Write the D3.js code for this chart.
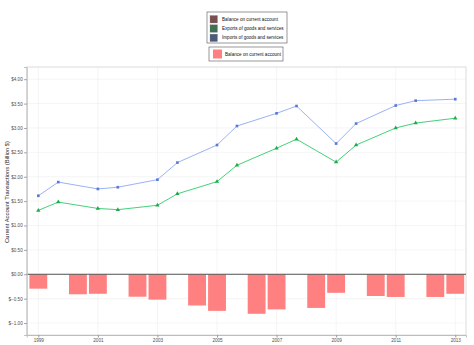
<!DOCTYPE html>
<html>
<head>
<meta charset="utf-8">
<script src="https://cdn.jsdelivr.net/npm/d3@7"></script>
<style>
body{margin:0;background:#fff;}
text{font-family:"Liberation Sans",Arial,sans-serif;}
</style>
</head>
<body>
<svg width="474" height="345"></svg>
<script>
// positions on the time axis
const lineYears=[1999,1999.67,2001,2001.67,2003,2003.67,2005,2005.67,2007,2007.67,2009,2009.67,2011,2011.67,2013];
const barYears=[1999,2000.33,2001,2002.33,2003,2004.33,2005,2006.33,2007,2008.33,2009,2010.33,2011,2012.33,2013];
const imports=[1.61,1.89,1.75,1.785,1.94,2.29,2.65,3.04,3.30,3.45,2.68,3.09,3.46,3.56,3.59];
const exports=[1.31,1.48,1.35,1.325,1.415,1.65,1.90,2.235,2.585,2.77,2.30,2.65,3.00,3.10,3.20];
const balance=[-0.295,-0.41,-0.40,-0.46,-0.52,-0.64,-0.75,-0.81,-0.72,-0.69,-0.38,-0.445,-0.465,-0.465,-0.40];
const xTicks=[1999,2001,2003,2005,2007,2009,2011,2013];
const yTicks=[4,3.5,3,2.5,2,1.5,1,0.5,0,-0.5,-1];
const legendLabels=["Balance on current account","Exports of goods and services","Imports of goods and services"];

const svg=d3.select("svg");
const pLeft=26.7, pRight=466, pTop=67, pBottom=335;
const x=d3.scaleLinear().domain([1998.61,2013.36]).range([pLeft,pRight]);
const y=d3.scaleLinear().domain([-1.245,4.25]).range([pBottom,pTop]);
const fmt=d=>"$"+d3.format(".2f")(d);

// grid
svg.append("g").selectAll("line").data(yTicks).enter().append("line")
   .attr("x1",pLeft).attr("x2",pRight).attr("y1",d=>y(d)).attr("y2",d=>y(d))
   .attr("stroke","#efefef").attr("stroke-width",0.6);
svg.append("g").selectAll("line").data(xTicks).enter().append("line")
   .attr("y1",pTop).attr("y2",pBottom).attr("x1",d=>x(d)).attr("x2",d=>x(d))
   .attr("stroke","#efefef").attr("stroke-width",0.6);

// panel border
svg.append("rect").attr("x",pLeft).attr("y",pTop).attr("width",pRight-pLeft).attr("height",pBottom-pTop)
   .attr("fill","none").attr("stroke","#dcdcdc").attr("stroke-width",1);

// bars
const barW=x(2000)-x(1999.4);
svg.append("g").selectAll("rect").data(balance).enter().append("rect")
   .attr("x",(d,i)=>x(barYears[i])-barW/2)
   .attr("width",barW)
   .attr("y",y(0))
   .attr("height",d=>y(d)-y(0))
   .attr("fill","#ff8080");

// zero line
svg.append("line").attr("x1",pLeft).attr("x2",pRight).attr("y1",y(0)).attr("y2",y(0))
   .attr("stroke","#555").attr("stroke-width",1);

// lines
const line=d3.line().x((d,i)=>x(lineYears[i])).y(d=>y(d));
svg.append("path").datum(imports).attr("d",line).attr("fill","none").attr("stroke","#8fa9f2").attr("stroke-width",0.9);
svg.append("path").datum(exports).attr("d",line).attr("fill","none").attr("stroke","#2ecc6a").attr("stroke-width",0.9);

svg.append("g").selectAll("path").data(imports).enter().append("path")
   .attr("d",d3.symbol().type(d3.symbolSquare).size(7))
   .attr("transform",(d,i)=>"translate("+x(lineYears[i])+","+y(d)+")")
   .attr("fill","#5a78d8");
svg.append("g").selectAll("path").data(exports).enter().append("path")
   .attr("d",d3.symbol().type(d3.symbolTriangle).size(8))
   .attr("transform",(d,i)=>"translate("+x(lineYears[i])+","+y(d)+")")
   .attr("fill","#1faa4a");

// axes
const yAxis=svg.append("g").attr("transform","translate("+pLeft+",0)")
   .call(d3.axisLeft(y).tickValues(yTicks).tickFormat(fmt).tickSize(2.5).tickPadding(1.5));
const xAxis=svg.append("g").attr("transform","translate(0,"+pBottom+")")
   .call(d3.axisBottom(x).tickValues(xTicks).tickFormat(d3.format("d")).tickSize(2.5).tickPadding(1.5));
[yAxis,xAxis].forEach(a=>{
  a.select(".domain").attr("stroke","#bdbdbd");
  a.selectAll(".tick line").attr("stroke","#999");
  a.selectAll("text").attr("fill","#4d4d4d").style("font-size","4.6px");
});

// y title
svg.append("text")
   .attr("transform","translate(9,192) rotate(-90)")
   .attr("text-anchor","middle")
   .style("font-size","5.8px")
   .attr("fill","#222")
   .text("Current Account Transactions (Billion $)");

// legend 1
const lg=svg.append("g");
lg.append("rect").attr("x",207).attr("y",12).attr("width",80).attr("height",31)
  .attr("fill","#fff").attr("stroke","#555").attr("stroke-width",0.6);
const keyCols=["#7a4f52","#3f7052","#4d5a7c"];
legendLabels.forEach((t,i)=>{
  const ky=15.5+i*9.3;
  lg.append("rect").attr("x",210).attr("y",ky).attr("width",7.5).attr("height",7.5)
    .attr("fill",keyCols[i]).attr("stroke","#888").attr("stroke-width",0.3);
  lg.append("text").attr("x",222).attr("y",ky+5.1).style("font-size","4.6px").attr("fill","#111").text(t);
});

// legend 2
lg.append("rect").attr("x",209).attr("y",47).attr("width",74).attr("height",14)
  .attr("fill","#fff").attr("stroke","#555").attr("stroke-width",0.6);
lg.append("rect").attr("x",213).attr("y",49.5).attr("width",9).attr("height",9).attr("fill","#ff8080");
lg.append("text").attr("x",225).attr("y",55.7).style("font-size","4.6px").attr("fill","#111").text(legendLabels[0]);
</script>
</body>
</html>
